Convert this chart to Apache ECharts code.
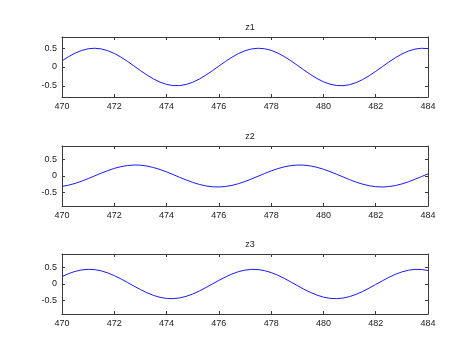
<!DOCTYPE html>
<html>
<head>
<meta charset="utf-8">
<script src="https://cdn.jsdelivr.net/npm/echarts@6/dist/echarts.min.js"></script>
<style>
  html, body { margin: 0; padding: 0; background: #fff; }
  #chart { width: 474px; height: 355px; }
</style>
</head>
<body>
<div id="chart"></div>
<script>
const xValues = [470, 470.25, 470.5, 470.75, 471, 471.25, 471.5, 471.75, 472, 472.25, 472.5, 472.75,
  473, 473.25, 473.5, 473.75, 474, 474.25, 474.5, 474.75, 475, 475.25, 475.5, 475.75,
  476, 476.25, 476.5, 476.75, 477, 477.25, 477.5, 477.75, 478, 478.25, 478.5, 478.75,
  479, 479.25, 479.5, 479.75, 480, 480.25, 480.5, 480.75, 481, 481.25, 481.5, 481.75,
  482, 482.25, 482.5, 482.75, 483, 483.25, 483.5, 483.75, 484];
const z1 = [0.163, 0.275, 0.370, 0.441, 0.486, 0.500, 0.483, 0.436, 0.362, 0.266, 0.152, 0.030,
  -0.095, -0.213, -0.318, -0.404, -0.464, -0.496, -0.496, -0.466, -0.407, -0.323, -0.218, -0.100,
  0.024, 0.147, 0.261, 0.358, 0.433, 0.482, 0.500, 0.487, 0.444, 0.373, 0.279, 0.168,
  0.046, -0.078, -0.198, -0.306, -0.394, -0.458, -0.493, -0.498, -0.472, -0.417, -0.335, -0.233,
  -0.116, 0.008, 0.131, 0.247, 0.346, 0.425, 0.477, 0.499, 0.491];
const z2 = [-0.312, -0.276, -0.222, -0.155, -0.078, 0.004, 0.085, 0.161, 0.228, 0.280, 0.314, 0.329,
  0.324, 0.299, 0.254, 0.195, 0.123, 0.043, -0.039, -0.119, -0.192, -0.252, -0.297, -0.323,
  -0.330, -0.315, -0.282, -0.230, -0.165, -0.089, -0.007, 0.075, 0.152, 0.220, 0.274, 0.311,
  0.329, 0.326, 0.303, 0.261, 0.203, 0.133, 0.054, -0.028, -0.109, -0.183, -0.245, -0.292,
  -0.321, -0.330, -0.318, -0.287, -0.238, -0.174, -0.099, -0.018, 0.064];
const z3 = [0.223, 0.310, 0.378, 0.422, 0.440, 0.430, 0.394, 0.333, 0.252, 0.155, 0.048, -0.062,
  -0.167, -0.263, -0.342, -0.400, -0.433, -0.439, -0.418, -0.371, -0.300, -0.211, -0.110, -0.001,
  0.108, 0.210, 0.300, 0.370, 0.417, 0.439, 0.433, 0.400, 0.343, 0.264, 0.169, 0.063,
  -0.047, -0.154, -0.251, -0.333, -0.394, -0.430, -0.440, -0.422, -0.378, -0.311, -0.224, -0.123,
  -0.015, 0.094, 0.198, 0.289, 0.362, 0.413, 0.438, 0.435, 0.406];
const titles = ['z1', 'z2', 'z3'];
const yTicks = [-0.5, 0, 0.5];
const yLimits = [0.8, 0.9, 0.9];

const chart = echarts.init(document.getElementById('chart'));
const font = 'Liberation Sans';
const axisColor = '#3a3a3a';
const tops = [37, 146, 254];

const grids = [], xAxes = [], yAxes = [], series = [], titleList = [];
[z1, z2, z3].forEach((z, i) => {
  grids.push({ left: 62, right: 46, top: tops[i], height: 60 });
  titleList.push({
    text: titles[i], left: 245, top: tops[i] - 19, textAlign: 'center',
    textStyle: { fontFamily: font, fontSize: 9, fontWeight: 'normal', color: '#222' }
  });
  // bottom and top x axes (top one only draws the box and ticks)
  ['bottom', 'top'].forEach(pos => {
    xAxes.push({
      type: 'value', gridIndex: i, position: pos, min: 470, max: 484, interval: 2,
      axisLine: { show: true, onZero: false, lineStyle: { color: axisColor, width: 1 } },
      axisTick: { show: true, inside: true, length: 3, lineStyle: { color: axisColor } },
      axisLabel: { show: pos === 'bottom', margin: 5, fontFamily: font, fontSize: 9, color: '#222' },
      splitLine: { show: false }
    });
  });
  ['left', 'right'].forEach(pos => {
    yAxes.push({
      type: 'value', gridIndex: i, position: pos, min: -yLimits[i], max: yLimits[i],
      axisLine: { show: true, onZero: false, lineStyle: { color: axisColor, width: 1 } },
      axisTick: { show: true, inside: true, length: 3, customValues: yTicks, lineStyle: { color: axisColor } },
      axisLabel: { show: pos === 'left', customValues: yTicks, margin: 5, fontFamily: font, fontSize: 9, color: '#222' },
      splitLine: { show: false }
    });
  });
  series.push({
    name: titles[i], type: 'line', xAxisIndex: i * 2, yAxisIndex: i * 2,
    data: z.map((v, k) => [xValues[k], v]),
    showSymbol: false, symbol: 'none',
    lineStyle: { color: '#1a1aff', width: 1 }
  });
});

chart.setOption({
  backgroundColor: '#fff',
  animation: false,
  title: titleList,
  grid: grids,
  xAxis: xAxes,
  yAxis: yAxes,
  series: series
});
</script>
</body>
</html>
